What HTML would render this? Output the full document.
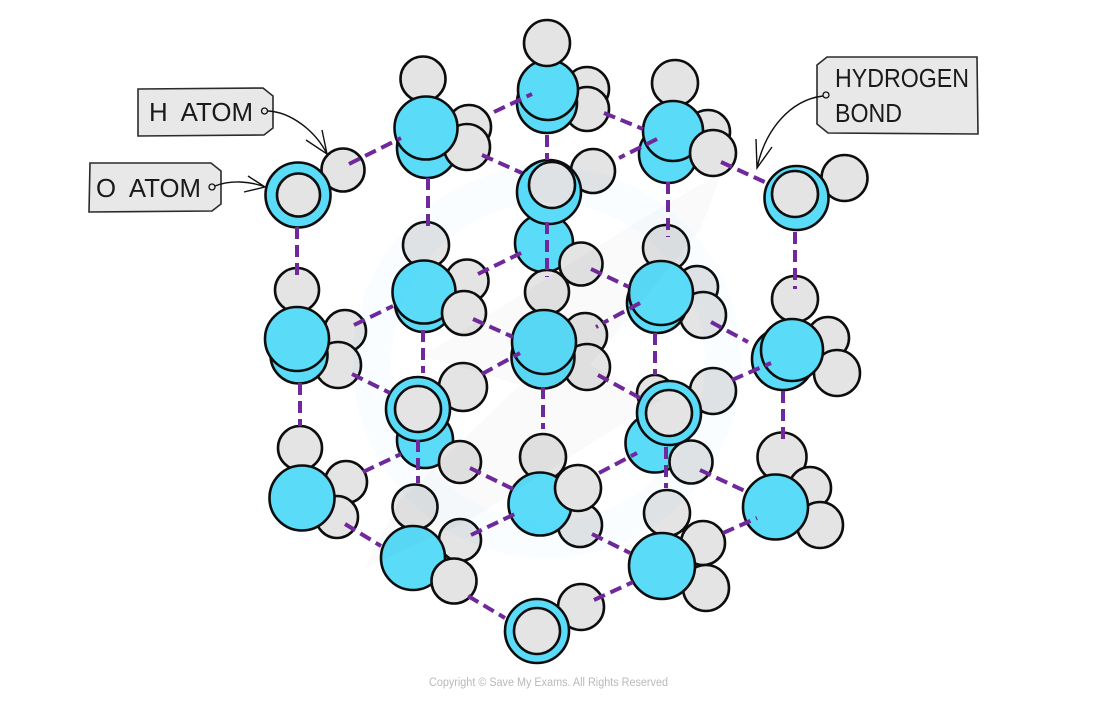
<!DOCTYPE html>
<html>
<head>
<meta charset="utf-8">
<style>
html,body{margin:0;padding:0;background:#fff;width:1100px;height:702px;overflow:hidden}
svg{display:block}
.o{fill:#5adcf9;stroke:#0d0d0d;stroke-width:2.6}
.h{fill:#e4e4e4;stroke:#0d0d0d;stroke-width:2.6}
.d line{stroke:#70289c;stroke-width:4;stroke-dasharray:12 6;fill:none}
.tag{fill:#e8e8e8;stroke:#2b2b2b;stroke-width:1.6}
.a{fill:none;stroke:#111;stroke-width:1.4}
.t{font-family:"Liberation Sans",sans-serif;font-size:26px;fill:#1a1a1a}
.dot{fill:#e8e8e8;stroke:#111;stroke-width:1.3}
.w{mix-blend-mode:multiply}
</style>
</head>
<body>
<svg width="1100" height="702" viewBox="0 0 1100 702" xmlns="http://www.w3.org/2000/svg">
<!-- molecules -->
<g>
<!-- M1 -->
<circle class="h" cx="343" cy="170" r="21.5"/><circle class="o" cx="298" cy="195" r="32.5"/><circle class="h" cx="298.500" cy="195" r="21.500"/>
<!-- M2 -->
<circle class="h" cx="423" cy="79" r="22.500"/><circle class="h" cx="469" cy="127" r="22"/><circle class="o" cx="427" cy="148" r="30"/><circle class="h" cx="467" cy="147" r="23"/><circle class="o" cx="426" cy="128" r="31.500"/>
<!-- M3 -->
<circle class="h" cx="587" cy="89" r="22"/><circle class="h" cx="587" cy="109" r="22"/><circle class="o" cx="547" cy="103" r="30"/><circle class="o" cx="548" cy="90" r="30"/><circle class="h" cx="547" cy="43" r="23"/>
<!-- M4 -->
<circle class="h" cx="675" cy="83" r="23"/><circle class="h" cx="708" cy="132" r="22"/><circle class="o" cx="668" cy="154" r="29"/><circle class="o" cx="673" cy="131" r="30"/><circle class="h" cx="713" cy="153" r="23"/>
<!-- M5 -->
<circle class="h" cx="844.500" cy="178" r="23"/><circle class="o" cx="796.500" cy="198" r="32"/><circle class="h" cx="795" cy="194" r="23"/>
<!-- M7 -->
<circle class="o" cx="544" cy="243" r="29"/><circle class="h" cx="581" cy="264" r="21.500"/>
<!-- M6 -->
<circle class="h" cx="593" cy="171" r="22"/><circle class="o" cx="549" cy="192" r="32"/><circle class="h" cx="552" cy="185" r="23"/><path d="M526 171 A31 31 0 0 1 574 172" fill="none" stroke="#0d0d0d" stroke-width="1.800"/>
<!-- M8 -->
<circle class="h" cx="426" cy="245" r="23"/><circle class="h" cx="467" cy="281" r="21.500"/><circle class="o" cx="424" cy="303" r="29"/><circle class="o" cx="424" cy="292" r="31.500"/><circle class="h" cx="464" cy="313" r="22"/>
<!-- M9 -->
<circle class="h" cx="297" cy="290" r="22"/><circle class="h" cx="345" cy="331" r="21"/><circle class="h" cx="338" cy="365" r="23"/><circle class="o" cx="299" cy="355" r="28.500"/><circle class="o" cx="297" cy="339" r="32"/>
<!-- M10 -->
<circle class="h" cx="547" cy="292" r="22"/><circle class="h" cx="585" cy="335" r="22"/><circle class="h" cx="587" cy="367" r="23"/><circle class="o" cx="543" cy="357" r="31.500"/><circle class="o" cx="544" cy="342" r="32"/>
<!-- M11 -->
<circle class="h" cx="666" cy="248" r="23"/><circle class="h" cx="697" cy="287" r="21"/><circle class="h" cx="703" cy="315" r="23"/><circle class="o" cx="657" cy="303" r="30"/><circle class="o" cx="661" cy="293" r="32"/>
<!-- M12 -->
<circle class="h" cx="795" cy="299" r="23"/><circle class="h" cx="828" cy="338" r="21"/><circle class="h" cx="837" cy="373" r="23"/><circle class="o" cx="783" cy="359" r="31"/><circle class="o" cx="792" cy="350" r="31"/>
<!-- M13 -->
<circle class="h" cx="463" cy="387" r="24"/><circle class="o" cx="425" cy="440" r="28"/><circle class="h" cx="460" cy="462" r="21"/><circle class="o" cx="418" cy="409" r="32"/><circle class="h" cx="418" cy="409" r="23"/>
<!-- M14 -->
<circle class="h" cx="655" cy="393" r="18"/><circle class="h" cx="713" cy="391" r="23"/><circle class="o" cx="655" cy="443" r="29.500"/><circle class="h" cx="691" cy="462" r="21.500"/><circle class="o" cx="669" cy="413" r="32"/><circle class="h" cx="669" cy="413" r="23"/>
<!-- M15 -->
<circle class="h" cx="300" cy="448" r="22"/><circle class="h" cx="346" cy="482" r="21"/><circle class="h" cx="337" cy="517" r="21"/><circle class="o" cx="302" cy="498" r="32.500"/>
<!-- M16 -->
<circle class="h" cx="543" cy="457" r="23"/><circle class="h" cx="580" cy="525" r="22"/><circle class="o" cx="540" cy="504" r="31.500"/><circle class="h" cx="578" cy="488" r="23"/>
<!-- M17 -->
<circle class="h" cx="782" cy="457" r="24.500"/><circle class="h" cx="810" cy="488" r="21"/><circle class="h" cx="820" cy="525" r="23"/><circle class="o" cx="775.500" cy="507" r="32.500"/>
<!-- M18 -->
<circle class="h" cx="415" cy="507" r="22.500"/><circle class="h" cx="460" cy="540" r="21"/><circle class="o" cx="413" cy="558" r="32"/><circle class="h" cx="454" cy="581" r="22.500"/>
<!-- M19 -->
<circle class="h" cx="667" cy="513" r="23"/><circle class="h" cx="703" cy="543" r="22"/><circle class="h" cx="706" cy="588" r="23"/><circle class="o" cx="662" cy="566" r="33"/>
<!-- M20 -->
<circle class="h" cx="581" cy="607" r="23"/><circle class="o" cx="537" cy="631" r="32"/><circle class="h" cx="537" cy="631" r="23"/>
</g>
<!-- hydrogen bonds -->
<g class="d">
<line x1="349" y1="164" x2="401" y2="138"/>
<line x1="494" y1="112" x2="532" y2="94"/>
<line x1="604" y1="113" x2="643" y2="129"/>
<line x1="482" y1="155" x2="522" y2="173"/>
<line x1="657" y1="139" x2="619" y2="158"/>
<line x1="721" y1="162" x2="769" y2="184"/>
<line x1="547" y1="135" x2="547" y2="160"/>
<line x1="428" y1="178" x2="428" y2="232"/>
<line x1="668" y1="182" x2="668" y2="237"/>
<line x1="547" y1="222" x2="547" y2="277"/>
<line x1="297" y1="227" x2="297" y2="281"/>
<line x1="795" y1="232" x2="795" y2="289"/>
<line x1="478" y1="274" x2="523" y2="252"/>
<line x1="591" y1="269" x2="629" y2="287"/>
<line x1="354" y1="325" x2="393" y2="306"/>
<line x1="473" y1="319" x2="513" y2="337"/>
<line x1="482" y1="374" x2="520" y2="353"/>
<line x1="352" y1="374" x2="390" y2="393"/>
<line x1="423" y1="330" x2="423" y2="373"/>
<line x1="300" y1="383" x2="300" y2="426"/>
<line x1="418" y1="440" x2="418" y2="483"/>
<line x1="363" y1="472" x2="401" y2="454"/>
<line x1="470" y1="468" x2="515" y2="490"/>
<line x1="543" y1="387" x2="543" y2="429"/>
<line x1="640" y1="303" x2="603" y2="323"/>
<line x1="596" y1="327" x2="598" y2="326" style="stroke-dasharray:none"/>
<line x1="598" y1="375" x2="640" y2="398"/>
<line x1="711" y1="322" x2="748" y2="342"/>
<line x1="732" y1="380" x2="771" y2="363"/>
<line x1="655" y1="333" x2="655" y2="375"/>
<line x1="783" y1="391" x2="783" y2="440"/>
<line x1="666" y1="447" x2="666" y2="488"/>
<line x1="599" y1="473" x2="637" y2="453"/>
<line x1="700" y1="470" x2="747" y2="492"/>
<line x1="471" y1="535" x2="519" y2="512"/>
<line x1="592" y1="534" x2="630" y2="553"/>
<line x1="723" y1="533" x2="757" y2="518"/>
<line x1="345" y1="524" x2="381" y2="546"/>
<line x1="468" y1="596" x2="505" y2="618"/>
<line x1="594" y1="600" x2="633" y2="582"/>
</g>
<!-- faint watermark -->
<path class="w" fill-rule="evenodd" d="M353 362a194 196 0 1 0 388 0a194 196 0 1 0-388 0zM391 362a156 158 0 1 0 314 0a156 158 0 1 0-314 0z" fill="#d8f0fa" opacity=".16"/>
<path class="w" d="M722 172 L640 220 L423 356 L520 385 L400 500 L365 568 L470 520 L660 400 L590 365 L700 230Z" fill="#d9d9d9" opacity=".14"/>
<!-- labels -->
<path class="tag" d="M138 89 L263 88 L273 96 L273 128 L264 135 L138 136Z"/>
<circle class="dot" cx="264.500" cy="111" r="3"/>
<text class="t" x="149" y="121" textLength="104" lengthAdjust="spacingAndGlyphs" xml:space="preserve">H  ATOM</text>
<path class="a" d="M268 111 C290 112 315 130 327 154 M322 130 L327 154 L306 140"/>
<path class="tag" d="M90 163 L211 163 L221 171 L221 204 L212 211 L89 212Z"/>
<circle class="dot" cx="212" cy="187" r="3"/>
<text class="t" x="96" y="197" textLength="105" lengthAdjust="spacingAndGlyphs" xml:space="preserve">O  ATOM</text>
<path class="a" d="M215 186 C230 180 250 181 265 187 M248 176 L265 187 L244 192"/>
<path class="tag" d="M827 57 L977 57 L978 134 L828 133 L817 124 L817 65Z"/>
<circle class="dot" cx="826" cy="95" r="3"/>
<text class="t" x="835" y="87" textLength="134" lengthAdjust="spacingAndGlyphs">HYDROGEN</text>
<text class="t" x="835" y="122" textLength="67" lengthAdjust="spacingAndGlyphs">BOND</text>
<path class="a" d="M823 96 C790 100 765 130 757 168 M756 139 L757 168 L772 147"/>
<text x="548.500" y="686" text-anchor="middle" font-family="'Liberation Sans',sans-serif" font-size="11.500" fill="#b9b9b9" textLength="239" lengthAdjust="spacingAndGlyphs">Copyright © Save My Exams. All Rights Reserved</text>
</svg>
</body>
</html>
